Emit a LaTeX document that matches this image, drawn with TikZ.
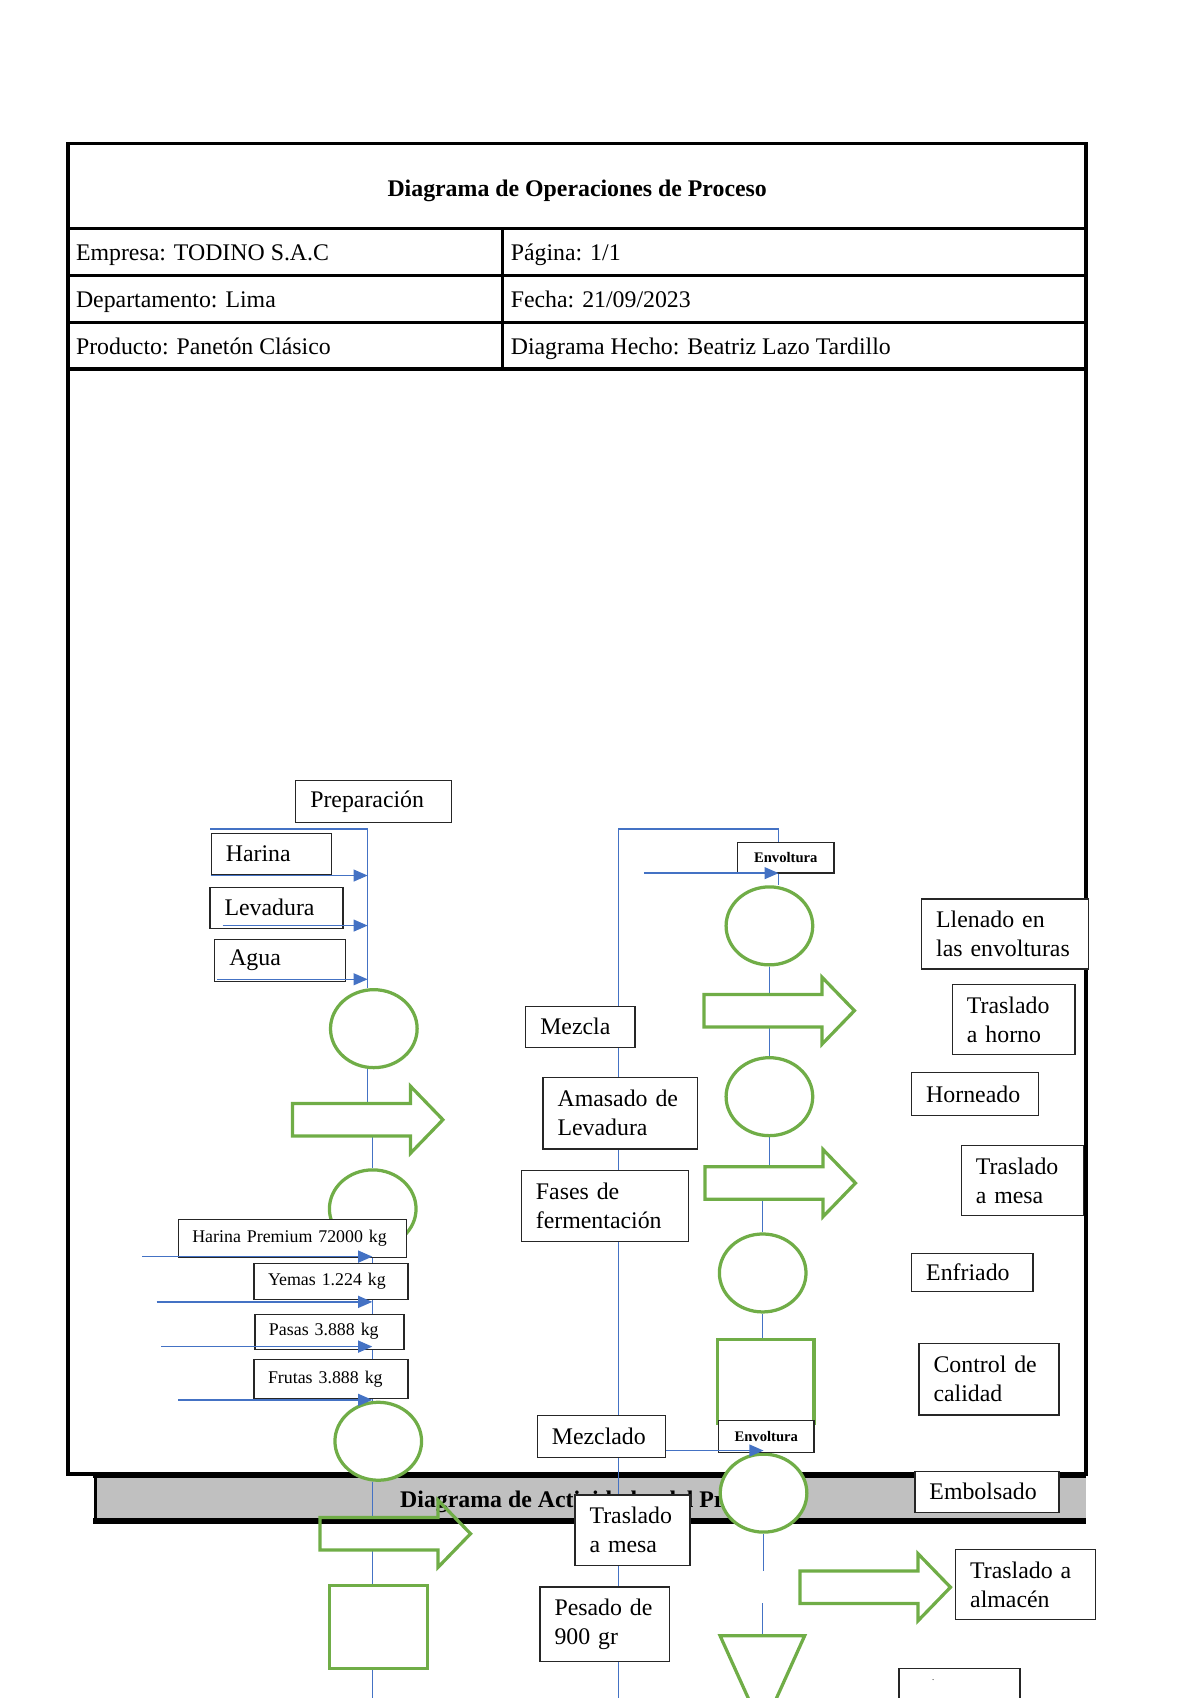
\documentclass[tikz,border=0pt]{standalone}
\usepackage{fontspec}
\setmainfont{Liberation Serif}
\usetikzlibrary{shapes.geometric,arrows.meta}
\definecolor{ggreen}{RGB}{112,173,71}
\definecolor{fblue}{RGB}{68,114,196}
\definecolor{bargray}{RGB}{192,192,192}
\pgfdeclarelayer{back}
\pgfdeclarelayer{lines}
\pgfdeclarelayer{front}
\pgfsetlayers{back,lines,main,front}
\begin{document}
\begin{tikzpicture}[x=1pt,y=-1pt,
  lbl/.style={draw=black!85, line width=1.2pt, fill=white, anchor=north west, inner xsep=13.5pt, inner ysep=0pt, align=left, font=\fontsize{22}{27}\selectfont},
  smallbox/.style={lbl, inner xsep=13pt, font=\fontsize{16.5}{20}\selectfont},
  envl/.style={draw=black!85, line width=1.2pt, fill=white, anchor=north west, inner sep=0pt, align=center, font=\bfseries\fontsize{13.5}{16}\selectfont},
  tabtxt/.style={anchor=base west, inner sep=0pt, font=\fontsize{22}{26}\selectfont},
  gcirc/.style={ellipse, draw=ggreen, line width=3pt, fill=white, minimum width=80pt, minimum height=72pt, inner sep=0pt},
  gsq/.style={draw=ggreen, line width=3pt, fill=white, anchor=north west, inner sep=0pt},
  garrow/.style={draw=ggreen, line width=3pt, line join=miter},
  flow/.style={draw=fblue, line width=1.3pt},
  flowarrow/.style={flow, -{Triangle[length=13pt,width=11pt]}},
  blockarrow/.pic={
    \node[minimum width=109pt, minimum height=30pt, inner sep=0pt, outer sep=0pt, anchor=west] (-b) at (0,0) {};
    \draw[garrow] (-b.south west) -- (-b.north west) -- (-b.north east) -- ++(0pt,16pt) -- ++(30pt,-31pt) -- ++(-30pt,-31pt) -- ++(0pt,16pt) -- cycle;
  }
]
\useasboundingbox (0,0) rectangle (1108,1568);

% ---------------- header table ----------------
\begin{pgfonlayer}{back}
\draw[line width=3.5pt] (63,132.5) rectangle (1003,1361);
\draw[line width=3pt] (63,210.8) -- (1003,210.8);
\draw[line width=3pt] (63,254.5) -- (1005,254.5);
\draw[line width=3pt] (63,297.5) -- (1005,297.5);
\draw[line width=3pt] (63,340.8) -- (1003,340.8);
\draw[line width=2pt] (464,210.8) -- (464,340.8);
% gray band
\fill[bargray] (87,1362.5) rectangle (1003,1404.5);
\draw[line width=5pt] (86,1362.5) -- (1003,1362.5);
\draw[line width=5pt] (86,1404.5) -- (1003,1404.5);
\draw[line width=3pt] (88,1361) -- (88,1406.5);
\node[anchor=base west, inner sep=0pt, font=\bfseries\fontsize{22}{26}\selectfont] (bartitle) at (369.4,1392.5) {Diagrama de Actividades del Proceso};
\end{pgfonlayer}

\node[anchor=base, inner sep=0pt, font=\bfseries\fontsize{22}{26}\selectfont] (title) at (533,181.5) {Diagrama de Operaciones de Proceso};
\node[tabtxt] (emp) at (70,241) {Empresa: TODINO S.A.C};
\node[tabtxt] (pag) at (471.5,241) {Página: 1/1};
\node[tabtxt] (dep) at (70,284) {Departamento: Lima};
\node[tabtxt] (fec) at (471.5,284) {Fecha: 21/09/2023};
\node[tabtxt] (prod) at (70,327) {Producto: Panetón Clásico};
\node[tabtxt] (hecho) at (471.5,327) {Diagrama Hecho: Beatriz Lazo Tardillo};

% ---------------- symbols ----------------
\node[gcirc] (c1) at (345.2,949.9) {};
\node[gcirc] (c2) at (344.2,1116.3) {};
\node[gcirc] (c3) at (349.3,1330.9) {};
\node[gcirc] (c4) at (710.5,855) {};
\node[gcirc] (c5) at (710.5,1012.7) {};
\node[gcirc] (c6) at (704.3,1175.5) {};
\node[gsq, minimum width=90.5pt, minimum height=76.4pt] (sq1) at (302.6,1462.6) {};
\node[gsq, minimum width=89.4pt, minimum height=77.7pt] (sq2) at (660.8,1235.1) {};
\node[gcirc] (c7) at (705.1,1378.8) {};
\pic (a1) at (270,1034) {blockarrow};
\pic (a2) at (295.5,1416.3) {blockarrow};
\pic (a3) at (650,933.3) {blockarrow};
\pic (a4) at (651,1092.5) {blockarrow};
\pic (a5) at (738.7,1465.7) {blockarrow};
\coordinate (tri) at (704,1510.6);
\draw[garrow] ([xshift=-39pt]tri) -- ([xshift=39pt]tri) -- (704,1597) -- cycle;

% ---------------- labels ----------------
\node[lbl, text width=117pt, minimum height=38.7pt] (prep) at (272.4,720) {Preparación};
\node[lbl, text width=83.8pt, minimum height=38.4pt] (harina) at (194.5,768.9) {Harina};
\node[lbl, text width=95.8pt, minimum height=37.9pt] (lev) at (193.3,818.7) {Levadura};
\node[lbl, text width=94pt, minimum height=38.8pt] (agua) at (197.6,867) {Agua};
\node[smallbox, text width=185pt, minimum height=34.8pt] (hp) at (164,1125.6) {Harina Premium 72000 kg};
\node[smallbox, text width=116.2pt, minimum height=33.8pt] (yemas) at (233.9,1165.9) {Yemas 1.224 kg};
\node[smallbox, text width=111.6pt, minimum height=32.3pt] (pasas) at (234.8,1213) {Pasas 3.888 kg};
\node[smallbox, text width=116.2pt, minimum height=36.3pt] (frutas) at (233.9,1254.8) {Frutas 3.888 kg};

\node[envl, minimum width=89pt, minimum height=28.3pt] (env1) at (680.5,777.2) {Envoltura};
\node[lbl, text width=74pt, minimum height=38pt] (mezcla) at (484.8,928.6) {Mezcla};
\node[lbl, text width=115.5pt, minimum height=66.2pt] (amasado) at (500.8,994.1) {Amasado de\\Levadura};
\node[lbl, text width=127.2pt, minimum height=65.6pt] (fases) at (480.8,1080.3) {Fases de\\fermentación};
\node[lbl, text width=91.2pt, minimum height=39pt] (mezclado) at (495.5,1306.6) {Mezclado};
\node[lbl, text width=79.2pt, minimum height=65.2pt] (tmesa1) at (530.3,1379.8) {Traslado\\a mesa};
\node[lbl, text width=92.7pt, minimum height=68.5pt] (pesado) at (498,1465) {Pesado de\\900 gr};
\node[envl, minimum width=88pt, minimum height=29.4pt] (env2) at (663,1311) {Envoltura};

\node[lbl, text width=126.9pt, minimum height=64.6pt] (llenado) at (850.4,829.5) {Llenado en\\las envolturas};
\node[lbl, text width=86.2pt, minimum height=64.6pt] (thorno) at (878.8,908.6) {Traslado\\a horno};
\node[lbl, text width=90.5pt, minimum height=39.4pt] (horneado) at (841.2,990.1) {Horneado};
\node[lbl, text width=85.7pt, minimum height=64.6pt] (tmesa2) at (887,1057.3) {Traslado\\a mesa};
\node[lbl, text width=85pt, minimum height=35.1pt] (enfriado) at (841.2,1156.7) {Enfriado};
\node[lbl, text width=102.2pt, minimum height=66.2pt] (control) at (848,1239.8) {Control de\\calidad};
\node[lbl, text width=106pt, minimum height=37.8pt] (embolsado) at (844.2,1358) {Embolsado};
\node[lbl, text width=102.2pt, minimum height=64.6pt] (talmacen) at (881.8,1430.3) {Traslado a\\almacén};
\node[lbl, text width=84.7pt, minimum height=70pt] (last) at (829.5,1540.4) {};
\node[inner sep=0pt, font=\fontsize{8}{8}\selectfont] (lastdot) at (861.8,1551) {.};

% ---------------- connectors ----------------
\begin{pgfonlayer}{lines}
\coordinate (ptl) at (194,765.5);
\coordinate (ptr) at (339.5,765.5);
\coordinate (lbot) at (343.8,1568);
\draw[flow] (ptl) -- (ptr) -- (ptr |- c1.north);
\draw[flow] (ptr |- c1.south) -- (ptr |- a1-b.north);
\draw[flow] (a1-b.south -| c2.north) -- (c2.north);
\draw[flow] (lbot |- c2.south) -- (lbot |- c3.north);
\draw[flow] (lbot |- c3.south) -- (lbot |- a2-b.north);
\draw[flow] (lbot |- a2-b.south) -- (lbot |- sq1.north);
\draw[flow] (lbot |- sq1.south) -- (lbot);

\coordinate (mtop) at (571,765.5);
\coordinate (etop) at (719,765.5);
\draw[flow] (mtop |- mezcla.north) -- (mtop) -- (etop) -- (etop |- c4.north);
\draw[flow] (mtop |- mezcla.south) -- (mtop |- amasado.north);
\draw[flow] (mtop |- amasado.south) -- (mtop |- fases.north);
\draw[flow] (mtop |- fases.south) -- (mtop |- mezclado.north);
\draw[flow] (mtop |- mezclado.south) -- (mtop |- tmesa1.north);
\draw[flow] (mtop |- tmesa1.south) -- (mtop |- pesado.north);
\coordinate (mbot) at (571,1568);
\draw[flow] (mbot |- pesado.south) -- (mbot);

\draw[flow] (c4.south) -- (c4.south |- a3-b.north);
\draw[flow] (a3-b.south -| c5.north) -- (c5.north);
\draw[flow] (c5.south) -- (c5.south |- a4-b.north);
\draw[flow] (a4-b.south -| c6.north) -- (c6.north);
\draw[flow] (c6.south) -- (c6.south |- sq2.north);
\draw[flow] (c7.south) -- (c7.south |- a5-b.north);
\draw[flow] (a5-b.south -| tri) -- (tri);
\end{pgfonlayer}

\begin{pgfonlayer}{front}
\draw[flowarrow] (harina.south west) -- (harina.south west -| ptr);
\coordinate (levin) at (205.6,854.7);
\draw[flowarrow] (levin) -- (levin -| ptr);
\coordinate (aguain) at (200.7,904.3);
\draw[flowarrow] (aguain) -- (aguain -| ptr);
\coordinate (hpin) at (131.4,1160.4);
\draw[flowarrow] (hpin) -- (hpin -| lbot);
\coordinate (yemin) at (144.7,1202.2);
\draw[flowarrow] (yemin) -- (yemin -| lbot);
\coordinate (pasin) at (148.7,1243.5);
\draw[flowarrow] (pasin) -- (pasin -| lbot);
\coordinate (frin) at (164.7,1292.7);
\draw[flowarrow] (frin) -- (frin -| lbot);
\coordinate (envin) at (594.6,806.3);
\draw[flowarrow] (envin) -- (envin -| etop);
\coordinate (mzout) at ([yshift=-12.8pt]mezclado.east);
\draw[flowarrow] (mzout) -- (mzout -| c7.north);
\end{pgfonlayer}
\end{tikzpicture}
\end{document}
